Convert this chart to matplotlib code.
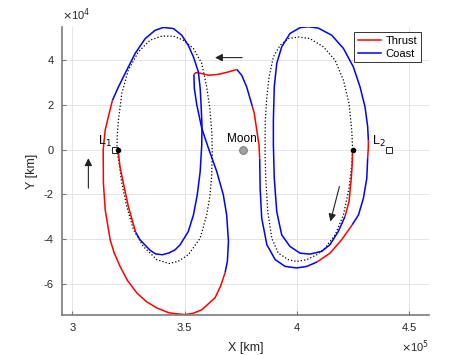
# Earth-Moon transfer: L2 halo orbit -> L1 halo orbit, thrust and coast arcs

import matplotlib.pyplot as plt
from matplotlib.lines import Line2D
from matplotlib.ticker import FuncFormatter

plt.rcParams['font.family'] = ['Liberation Sans', 'DejaVu Sans']

# x in units of 1e5 km, y in units of 1e4 km
# transfer trajectory split into arcs (each arc ends where the next starts)
arc_phase = ['T', 'C', 'T', 'C', 'T', 'C', 'T', 'C', 'T', 'C', 'T', 'C', 'T']
arc_x = [
    [4.248, 4.246, 4.242, 4.232, 4.214],
    [4.214, 4.184, 4.147, 4.110, 4.058, 4.014, 3.969, 3.932, 3.910, 3.899,
     3.895, 3.895, 3.899, 3.910, 3.932, 3.969, 4.014, 4.051, 4.095, 4.155,
     4.207, 4.251, 4.281, 4.303, 4.315, 4.318],
    [4.318, 4.318, 4.315],
    [4.315, 4.311, 4.296, 4.274, 4.246],
    [4.246, 4.199, 4.147, 4.090],
    [4.090, 4.044, 3.999, 3.947, 3.903, 3.866, 3.843, 3.836, 3.834],
    [3.834, 3.831, 3.821, 3.810, 3.801],
    [3.801, 3.776, 3.754, 3.732],
    [3.732, 3.695, 3.650, 3.606, 3.570, 3.550, 3.541],
    [3.541, 3.543, 3.554, 3.576, 3.606, 3.643, 3.672, 3.687, 3.695, 3.690,
     3.680],
    [3.680, 3.660, 3.635, 3.576, 3.540, 3.502, 3.430, 3.376, 3.330, 3.287,
     3.245, 3.212, 3.186, 3.168, 3.146, 3.138, 3.137, 3.146, 3.160, 3.178],
    [3.178, 3.205, 3.242, 3.279, 3.324, 3.368, 3.405, 3.450, 3.487, 3.516,
     3.539, 3.561, 3.569, 3.573, 3.577, 3.576, 3.569, 3.556, 3.539, 3.516,
     3.480, 3.457, 3.430, 3.400, 3.370, 3.346, 3.301, 3.282],
    [3.282, 3.249, 3.227, 3.212, 3.203],
]
arc_y = [
    [0.00, -0.68, -1.28, -2.32, -2.99],
    [-2.99, -3.66, -4.25, -4.55, -4.67, -4.63, -4.33, -3.81, -2.77, -1.28,
     0.21, 1.33, 2.81, 3.86, 4.60, 5.20, 5.46, 5.50, 5.44, 5.12,
     4.53, 3.71, 2.81, 1.92, 1.03, 0.43],
    [0.43, 0.13, -0.38],
    [-0.38, -1.28, -2.17, -2.92, -3.36],
    [-3.36, -4.03, -4.63, -5.02],
    [-5.02, -5.22, -5.29, -5.22, -4.92, -4.25, -3.06, -1.72, -0.40],
    [-0.40, 0.21, 0.88, 1.62, 1.95],
    [1.95, 2.81, 3.33, 3.59],
    [3.59, 3.48, 3.37, 3.33, 3.42, 3.45, 3.36],
    [3.36, 2.74, 2.00, 0.96, 0.06, -0.98, -2.02, -2.92, -4.11, -5.00,
     -5.50],
    [-5.50, -6.10, -6.63, -7.16, -7.31, -7.38, -7.30, -7.08, -6.80, -6.41,
     -5.85, -5.22, -4.62, -4.03, -2.69, -1.50, 0.00, 0.88, 1.47, 2.20],
    [2.20, 2.81, 3.56, 4.30, 4.97, 5.34, 5.47, 5.42, 5.12, 4.67,
     4.15, 3.48, 2.74, 2.00, 1.10, 0.21, -0.98, -2.02, -2.92, -3.66,
     -4.25, -4.48, -4.62, -4.70, -4.66, -4.50, -4.03, -3.70],
    [-3.70, -2.54, -1.50, -0.76, 0.00],
]

# halo orbits
l1_halo_x = [3.198, 3.200, 3.205, 3.220, 3.249, 3.294, 3.346, 3.398, 3.450, 3.494,
             3.539, 3.576, 3.598, 3.613, 3.621, 3.623, 3.620, 3.612, 3.598, 3.569,
             3.516, 3.470, 3.430, 3.376, 3.316, 3.272, 3.242, 3.220, 3.208, 3.198]
l1_halo_y = [0.00, 0.70, 1.33, 2.52, 3.56, 4.38, 4.90, 5.08, 5.08, 4.90,
             4.53, 3.86, 2.81, 1.77, 0.73, -0.16, -1.20, -2.10, -2.92, -3.96,
             -4.70, -5.00, -5.09, -4.92, -4.33, -3.58, -2.54, -1.50, -0.61, 0.00]
l2_halo_x = [4.248, 4.244, 4.232, 4.207, 4.170, 4.118, 4.058, 4.006, 3.962, 3.925,
             3.895, 3.876, 3.866, 3.859, 3.858, 3.861, 3.870, 3.888, 3.917, 3.962,
             3.999, 4.044, 4.088, 4.125, 4.170, 4.207, 4.232, 4.244, 4.248]
l2_halo_y = [0.02, 0.88, 2.07, 3.11, 4.00, 4.60, 4.97, 5.04, 4.97, 4.67,
             4.15, 3.26, 2.37, 1.33, -0.16, -1.28, -2.77, -3.96, -4.63, -4.92,
             -5.00, -4.92, -4.70, -4.40, -3.81, -2.92, -1.72, -0.68, 0.02]

# points of interest
lagrange_x = [3.19, 4.41]
moon_x = 3.76
halo_start_x = [3.203, 4.248]

fig = plt.figure(figsize=(4.74, 3.55), dpi=100)
ax = fig.add_axes([0.131, 0.113, 0.774, 0.811])

ax.plot(l1_halo_x, l1_halo_y, ':', color='k', lw=0.9)
ax.plot(l2_halo_x, l2_halo_y, ':', color='k', lw=0.9)

colors = {'T': '#ff0000', 'C': '#0000ff'}
for xs, ys, ph in zip(arc_x, arc_y, arc_phase):
    ax.plot(xs, ys, color=colors[ph], lw=1.1, solid_capstyle='butt')

ax.plot(lagrange_x, [0, 0], 's', ms=4.5, mfc='white', mec='#222', mew=0.7)
ax.plot(halo_start_x, [0, 0], 'o', ms=3, color='k')
ax.plot(moon_x, 0, 'o', ms=5.5, mfc='#a0a0a0', mec='#808080', mew=0.8)

ax.text(3.115, 0.22, 'L$_1$', fontsize=9)
ax.text(4.334, 0.22, 'L$_2$', fontsize=9)
ax.text(3.753, 0.2, 'Moon', fontsize=8.5, ha='center', va='bottom')

arrow = dict(arrowstyle='-|>', color='#222222', lw=0.8, mutation_scale=11,
             shrinkA=0, shrinkB=0)
ax.annotate('', xy=(3.071, -0.38), xytext=(3.071, -1.72), arrowprops=arrow)
ax.annotate('', xy=(3.635, 4.12), xytext=(3.756, 4.12), arrowprops=arrow)
ax.annotate('', xy=(4.149, -3.21), xytext=(4.189, -1.65), arrowprops=arrow)

ax.set_xlim(2.954, 4.588)
ax.set_ylim(-7.39, 5.49)
ax.set_xticks([3, 3.5, 4, 4.5])
ax.set_yticks([-6, -4, -2, 0, 2, 4])
fmt = FuncFormatter(lambda v, _: f'{v:g}')
ax.xaxis.set_major_formatter(fmt)
ax.yaxis.set_major_formatter(fmt)
ax.tick_params(direction='in', length=3, width=0.8, color='#777777',
               labelsize=8, labelcolor='#262626', pad=6)
ax.grid(True, color='#e4e4e4', lw=0.7)
ax.set_axisbelow(True)
for side in ['top', 'right']:
    ax.spines[side].set_visible(False)
for side in ['left', 'bottom']:
    ax.spines[side].set_color('#7a7a7a')
    ax.spines[side].set_linewidth(1.2)

ax.text(0.0, 1.015, r'$\times$10$^4$', transform=ax.transAxes, fontsize=8,
        color='#262626', ha='left', va='bottom')
ax.text(1.0, -0.08, r'$\times$10$^5$', transform=ax.transAxes, fontsize=8,
        color='#262626', ha='right', va='top')

ax.set_xlabel('X [km]', fontsize=9, color='#262626', labelpad=6)
ax.set_ylabel('Y [km]', fontsize=9, color='#262626', labelpad=4)

handles = [Line2D([], [], color=colors['T'], lw=1.1),
           Line2D([], [], color=colors['C'], lw=1.1)]
leg = ax.legend(handles, ['Thrust', 'Coast'], loc='upper right',
                bbox_to_anchor=(0.977, 0.981), borderaxespad=0, fontsize=8,
                fancybox=False, framealpha=1, edgecolor='#333333',
                handlelength=2.1, handletextpad=0.4, labelspacing=0.25,
                borderpad=0.3)
leg.get_frame().set_linewidth(0.7)

fig.savefig('out.png', dpi=100)
